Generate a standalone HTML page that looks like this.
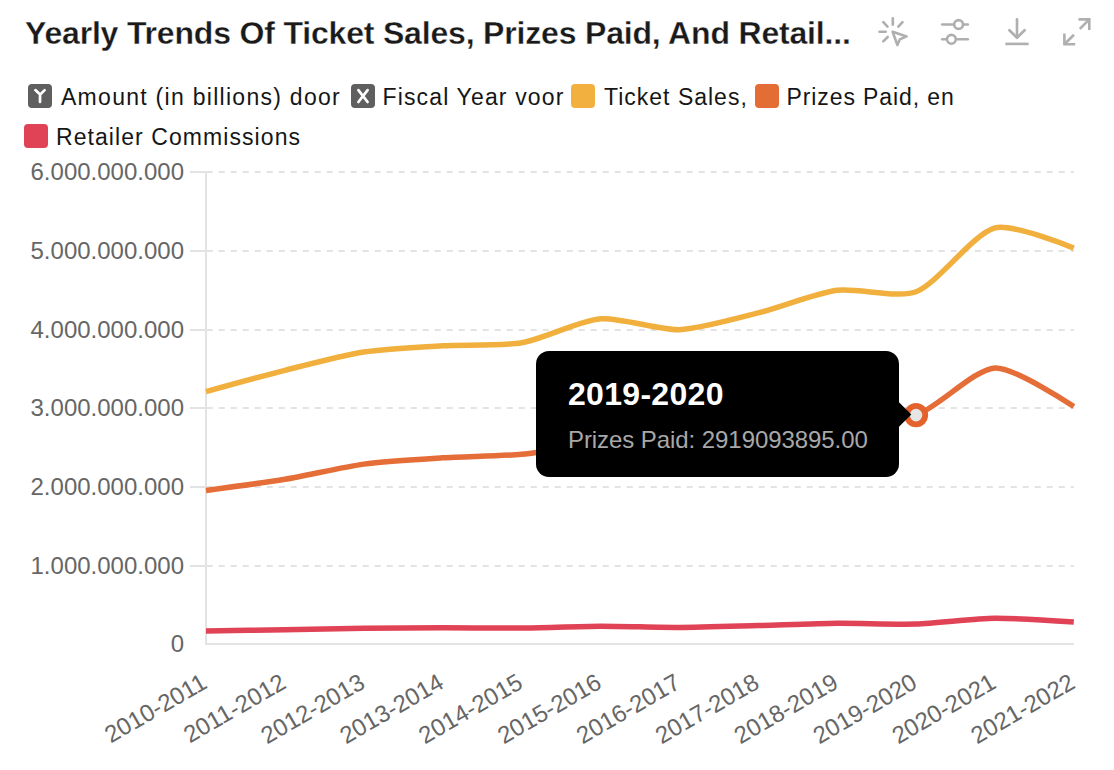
<!DOCTYPE html>
<html><head><meta charset="utf-8">
<style>
html,body{margin:0;padding:0;background:#fff;width:1114px;height:770px;overflow:hidden;font-family:"Liberation Sans",sans-serif;}
.title{position:absolute;left:25px;top:15px;-webkit-text-stroke:0.3px #fff;font-size:32px;font-weight:bold;color:#1a1a1a;white-space:nowrap;letter-spacing:-0.18px;}
.leg{position:absolute;font-size:23px;color:#161616;white-space:nowrap;}
.badge{position:absolute;width:24px;height:23.5px;border-radius:4px;}
svg{position:absolute;left:0;top:0;}
.yl{font-size:24px;fill:#666;font-family:"Liberation Sans",sans-serif;}
.tip{position:absolute;left:536px;top:351px;width:363px;height:126px;background:#000;border-radius:13px;}
.tip .h{position:absolute;left:32px;top:25px;font-size:32px;font-weight:bold;color:#fff;letter-spacing:0.3px;}
.tip .v{position:absolute;left:32px;top:75px;font-size:24px;color:#a8a8a8;letter-spacing:-0.07px;}
</style></head><body>
<div class="title">Yearly Trends Of Ticket Sales, Prizes Paid, And Retail...</div>
<div class="badge" style="left:28.25px;top:84.1px;background:#5f5f5f"></div>
<div class="leg" style="left:61px;top:84px;letter-spacing:1.28px">Amount (in billions) door</div>
<div class="badge" style="left:351.25px;top:84.1px;background:#5f5f5f"></div>
<div class="leg" style="left:382.5px;top:84px;letter-spacing:1.15px">Fiscal Year voor</div>
<div class="badge" style="left:571px;top:84.1px;background:#f2b03f"></div>
<div class="leg" style="left:604px;top:84px;letter-spacing:1.0px">Ticket Sales,</div>
<div class="badge" style="left:755px;top:84.1px;background:#e46d36"></div>
<div class="leg" style="left:786.5px;top:84px;letter-spacing:0.9px">Prizes Paid, en</div>
<div class="badge" style="left:24px;top:124.4px;background:#e04355"></div>
<div class="leg" style="left:56px;top:124px;letter-spacing:1.07px">Retailer Commissions</div>
<svg width="1114" height="770" viewBox="0 0 1114 770">

<g fill="none" stroke="#afafaf" stroke-width="2.6" stroke-linecap="round" stroke-linejoin="round">
<line x1="892.8" y1="18.2" x2="892.8" y2="24.8"/>
<line x1="883.3" y1="22.2" x2="887.5" y2="26.6"/>
<line x1="902.5" y1="22.2" x2="898.3" y2="26.6"/>
<line x1="879.5" y1="31.7" x2="885.7" y2="31.7"/>
<line x1="883.3" y1="41.4" x2="887.7" y2="37.0"/>
<path d="M892.6 31.8 L906.6 36.4 L899.8 39.4 L897.4 45.0 Z"/>
<line x1="942.2" y1="24.5" x2="967.8" y2="24.5"/>
<line x1="942.2" y1="39.3" x2="967.8" y2="39.3"/>
<circle cx="958.6" cy="24.5" r="4.4" fill="#fff"/>
<circle cx="951.4" cy="39.3" r="4.4" fill="#fff"/>
<line x1="1017" y1="19.2" x2="1017" y2="37.2"/>
<path d="M1009.4 30.2 L1017 37.7 L1024.6 30.2"/>
<line x1="1005.4" y1="43.9" x2="1028.6" y2="43.9" stroke-linecap="butt"/>
<g stroke-linecap="butt" stroke-linejoin="miter">
<path d="M1078.5 19.4 L1089.3 19.4 L1089.3 30.0"/>
<line x1="1089.3" y1="19.4" x2="1079.8" y2="28.9"/>
<path d="M1064.4 33.5 L1064.4 44.2 L1075.2 44.2"/>
<line x1="1064.4" y1="44.2" x2="1074" y2="34.8"/>
</g>
</g>

<g fill="none" stroke="#fff" stroke-width="2.7" stroke-linecap="round" stroke-linejoin="round">
<path d="M35.4 90.1 L40.1 94.6 L44.6 90.1 M40.1 94.6 L40.0 102"/>
<path d="M358.4 90.1 L367.6 102 M367.6 90.1 L358.4 102"/>
</g>
<line x1="206.7" y1="172.0" x2="1073.8" y2="172.0" stroke="#e3e3e3" stroke-width="2" stroke-dasharray="6 6"/>
<line x1="190" y1="172.0" x2="206.7" y2="172.0" stroke="#e3e3e3" stroke-width="2"/>
<line x1="206.7" y1="251.0" x2="1073.8" y2="251.0" stroke="#e3e3e3" stroke-width="2" stroke-dasharray="6 6"/>
<line x1="190" y1="251.0" x2="206.7" y2="251.0" stroke="#e3e3e3" stroke-width="2"/>
<line x1="206.7" y1="330.0" x2="1073.8" y2="330.0" stroke="#e3e3e3" stroke-width="2" stroke-dasharray="6 6"/>
<line x1="190" y1="330.0" x2="206.7" y2="330.0" stroke="#e3e3e3" stroke-width="2"/>
<line x1="206.7" y1="408.0" x2="1073.8" y2="408.0" stroke="#e3e3e3" stroke-width="2" stroke-dasharray="6 6"/>
<line x1="190" y1="408.0" x2="206.7" y2="408.0" stroke="#e3e3e3" stroke-width="2"/>
<line x1="206.7" y1="487.0" x2="1073.8" y2="487.0" stroke="#e3e3e3" stroke-width="2" stroke-dasharray="6 6"/>
<line x1="190" y1="487.0" x2="206.7" y2="487.0" stroke="#e3e3e3" stroke-width="2"/>
<line x1="206.7" y1="566.0" x2="1073.8" y2="566.0" stroke="#e3e3e3" stroke-width="2" stroke-dasharray="6 6"/>
<line x1="190" y1="566.0" x2="206.7" y2="566.0" stroke="#e3e3e3" stroke-width="2"/>
<line x1="206" y1="171" x2="206" y2="645.0" stroke="#e3e3e3" stroke-width="2"/>
<line x1="205" y1="644.0" x2="1073.8" y2="644.0" stroke="#e3e3e3" stroke-width="2"/>
<text x="184" y="179.8" text-anchor="end" class="yl">6.000.000.000</text>
<text x="184" y="258.8" text-anchor="end" class="yl">5.000.000.000</text>
<text x="184" y="337.8" text-anchor="end" class="yl">4.000.000.000</text>
<text x="184" y="415.8" text-anchor="end" class="yl">3.000.000.000</text>
<text x="184" y="494.8" text-anchor="end" class="yl">2.000.000.000</text>
<text x="184" y="573.8" text-anchor="end" class="yl">1.000.000.000</text>
<text x="184" y="651.8" text-anchor="end" class="yl">0</text>
<text x="0" y="0" text-anchor="end" class="yl" transform="translate(205.5 681.5) rotate(-30)" dominant-baseline="middle">2010-2011</text>
<text x="0" y="0" text-anchor="end" class="yl" transform="translate(284.4 681.5) rotate(-30)" dominant-baseline="middle">2011-2012</text>
<text x="0" y="0" text-anchor="end" class="yl" transform="translate(363.3 681.5) rotate(-30)" dominant-baseline="middle">2012-2013</text>
<text x="0" y="0" text-anchor="end" class="yl" transform="translate(442.2 681.5) rotate(-30)" dominant-baseline="middle">2013-2014</text>
<text x="0" y="0" text-anchor="end" class="yl" transform="translate(521.1 681.5) rotate(-30)" dominant-baseline="middle">2014-2015</text>
<text x="0" y="0" text-anchor="end" class="yl" transform="translate(600.0 681.5) rotate(-30)" dominant-baseline="middle">2015-2016</text>
<text x="0" y="0" text-anchor="end" class="yl" transform="translate(678.8 681.5) rotate(-30)" dominant-baseline="middle">2016-2017</text>
<text x="0" y="0" text-anchor="end" class="yl" transform="translate(757.7 681.5) rotate(-30)" dominant-baseline="middle">2017-2018</text>
<text x="0" y="0" text-anchor="end" class="yl" transform="translate(836.6 681.5) rotate(-30)" dominant-baseline="middle">2018-2019</text>
<text x="0" y="0" text-anchor="end" class="yl" transform="translate(915.5 681.5) rotate(-30)" dominant-baseline="middle">2019-2020</text>
<text x="0" y="0" text-anchor="end" class="yl" transform="translate(994.4 681.5) rotate(-30)" dominant-baseline="middle">2020-2021</text>
<text x="0" y="0" text-anchor="end" class="yl" transform="translate(1073.3 681.5) rotate(-30)" dominant-baseline="middle">2021-2022</text>
<path d="M206.00 630.90 C206.00 630.90 265.17 630.02 284.89 629.70 C304.61 629.37 344.06 628.54 363.78 628.30 C383.50 628.06 422.95 627.84 442.67 627.80 C462.40 627.76 501.84 628.20 521.56 628.00 C541.29 627.80 580.73 626.26 600.45 626.20 C620.18 626.14 659.62 627.57 679.35 627.50 C699.07 627.42 738.51 626.12 758.24 625.60 C777.96 625.07 817.40 623.50 837.13 623.30 C856.85 623.10 896.32 624.64 916.02 624.00 C935.77 623.36 975.17 618.46 994.91 618.20 C1014.62 617.94 1073.80 621.90 1073.80 621.90" fill="none" stroke="#e04355" stroke-width="5.5" stroke-linejoin="round"/>
<path d="M206.00 490.40 C206.00 490.40 265.25 482.57 284.89 479.30 C304.70 476.00 343.91 466.81 363.78 464.10 C383.36 461.43 422.93 459.03 442.67 457.80 C462.37 456.58 501.91 455.96 521.56 454.30 C541.35 452.63 580.72 446.81 600.45 444.50 C620.16 442.19 659.61 437.83 679.35 435.80 C699.05 433.78 738.51 430.11 758.24 428.30 C777.95 426.49 817.40 422.94 837.13 421.30 C856.84 419.66 897.78 421.37 916.02 415.20 C937.22 408.02 974.73 369.01 994.91 367.90 C1014.18 366.84 1073.80 406.50 1073.80 406.50" fill="none" stroke="#e56d38" stroke-width="5.5" stroke-linejoin="round"/>
<path d="M206.00 391.60 C206.00 391.60 265.08 375.27 284.89 370.30 C304.53 365.37 343.83 355.10 363.78 352.00 C383.28 348.97 422.93 346.95 442.67 345.80 C462.37 344.65 502.27 346.10 521.56 342.80 C541.72 339.35 580.39 320.47 600.45 318.80 C619.83 317.19 659.75 330.43 679.35 329.70 C699.19 328.96 738.68 317.78 758.24 312.90 C778.13 307.93 817.02 292.99 837.13 290.30 C856.46 287.71 898.77 298.62 916.02 291.80 C938.21 283.02 973.02 233.96 994.91 227.90 C1012.47 223.04 1073.80 248.10 1073.80 248.10" fill="none" stroke="#f1b03e" stroke-width="5.5" stroke-linejoin="round"/>
<circle cx="916.02" cy="415.1" r="9.2" fill="#e6e6e6" stroke="#e4622c" stroke-width="5.8"/>
</svg>
<div class="tip"><div class="h">2019-2020</div><div class="v">Prizes Paid: 2919093895.00</div></div>
<svg width="1114" height="770" viewBox="0 0 1114 770" style="pointer-events:none">
<path d="M898.5 401.8 L911.3 414.6 L898.5 427.2 Z" fill="#000"/>
</svg>
</body></html>
